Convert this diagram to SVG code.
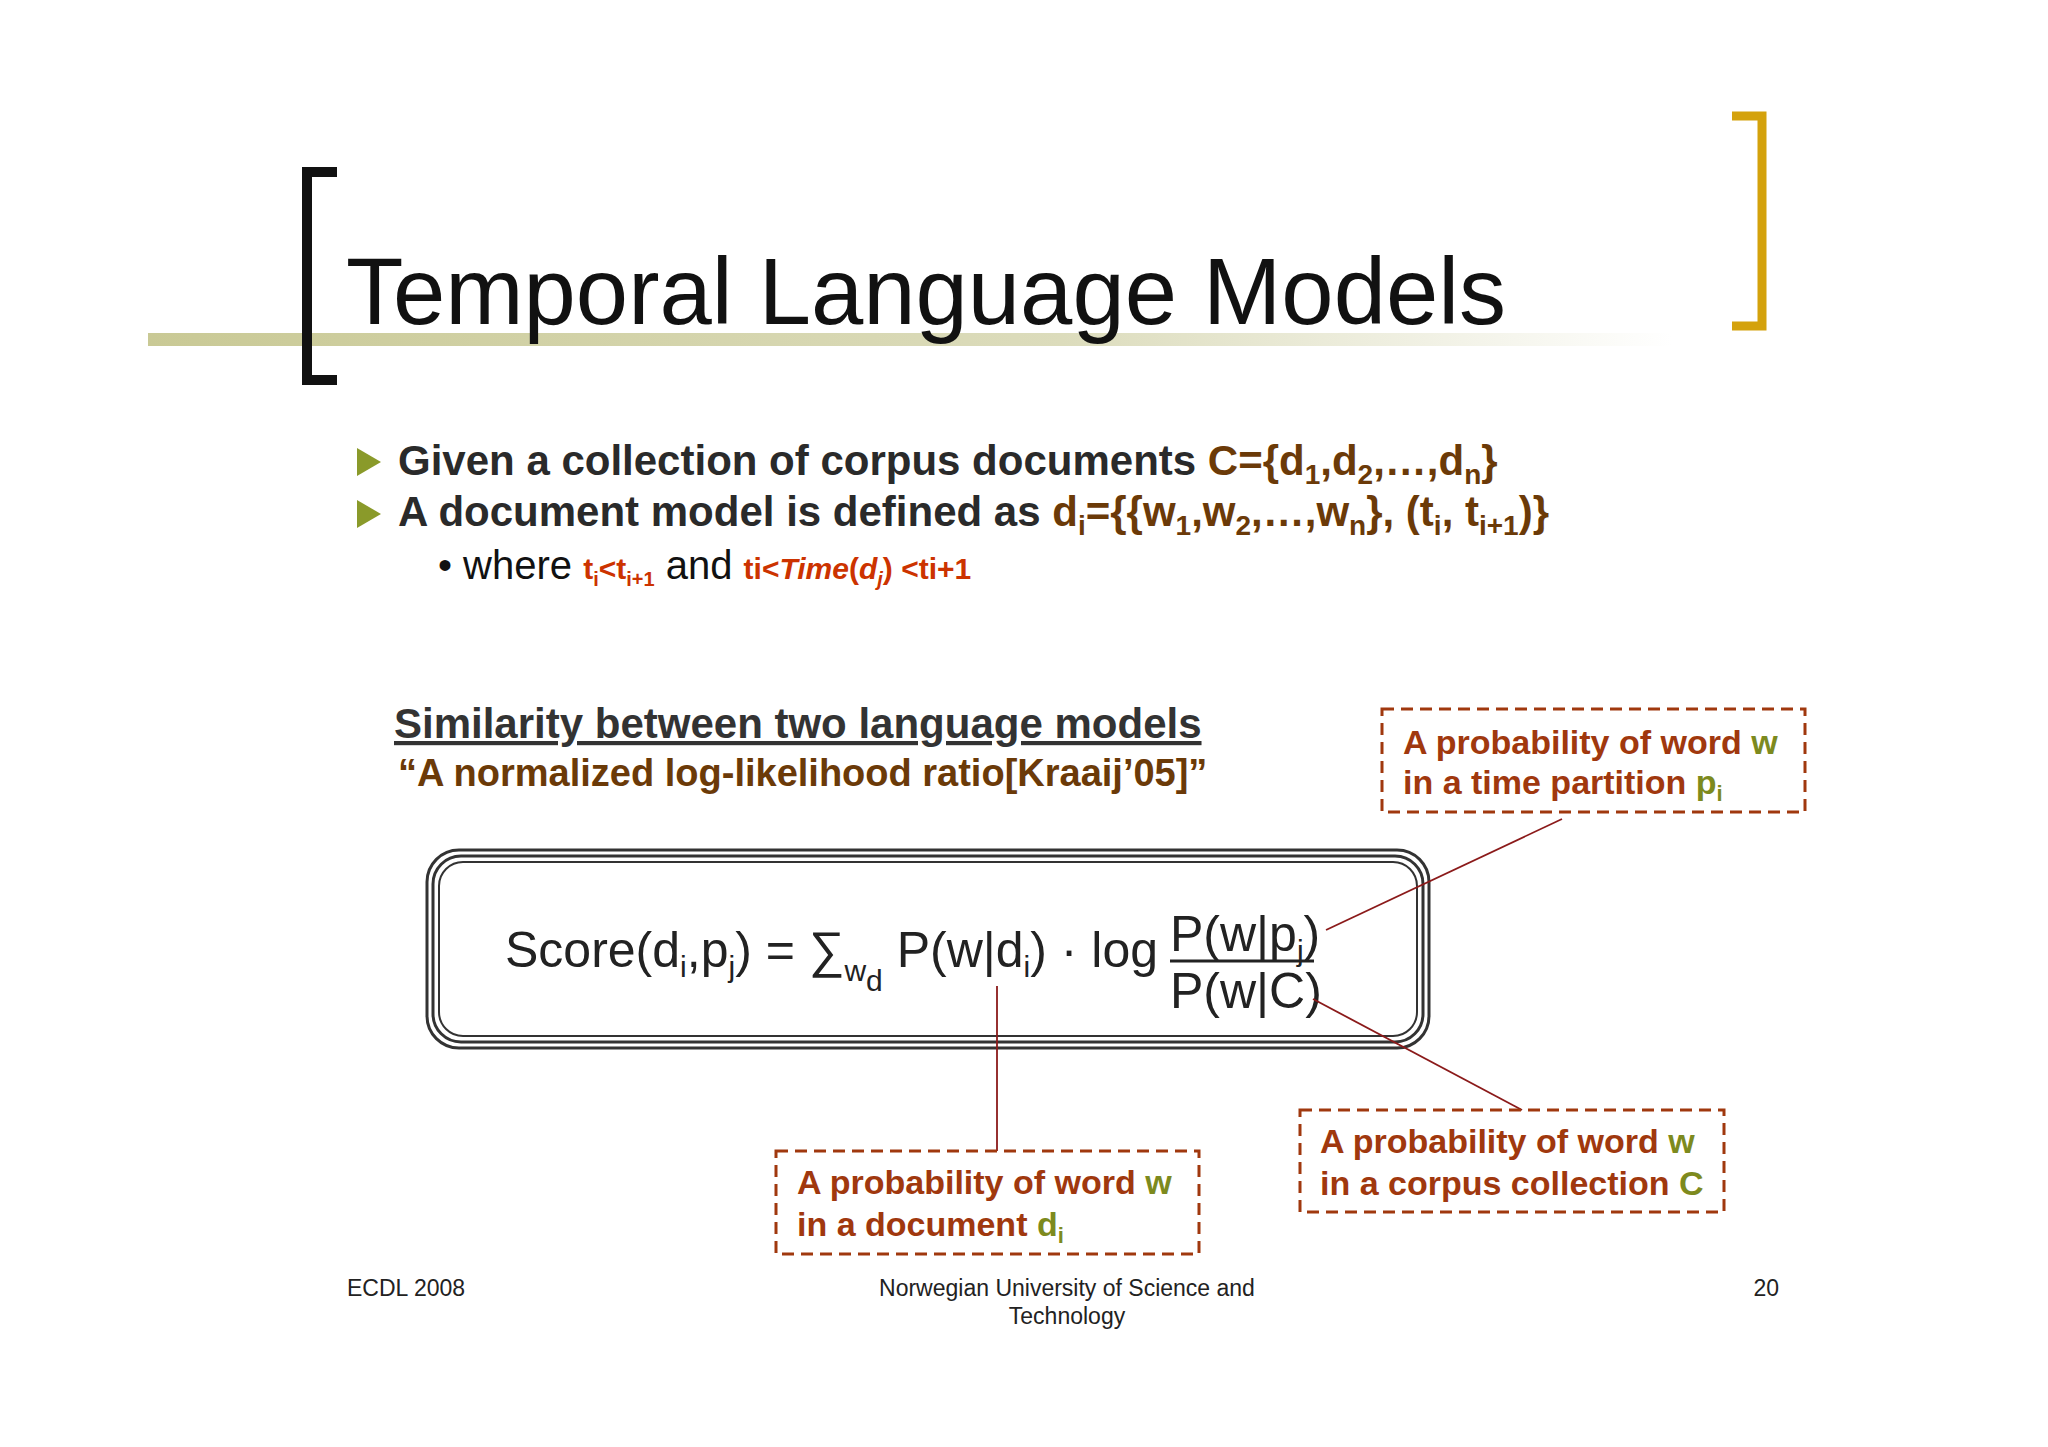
<svg xmlns="http://www.w3.org/2000/svg" width="2048" height="1447" viewBox="0 0 2048 1447">
<defs>
<linearGradient id="bar" x1="0" x2="1" y1="0" y2="0">
<stop offset="0" stop-color="#c9c995"/><stop offset="0.6" stop-color="#dcdcbc"/><stop offset="1" stop-color="#ffffff"/>
</linearGradient>
<style>
text{font-family:"Liberation Sans",Arial,sans-serif}
.b{font-weight:bold}
.dk{fill:#2a2a2a}
.br{fill:#6b3a08}
.rd{fill:#cc3300}
.bx{fill:#a0380e}
.ol{fill:#7d8a1e}
.dash{fill:none;stroke:#a0380e;stroke-width:3;stroke-dasharray:12,7}
.con{stroke:#8b1a1a;stroke-width:1.8;fill:none}
.ft{font-size:23px;fill:#222}
</style>
</defs>
<rect width="2048" height="1447" fill="#fff"/>
<g id="header">
<rect x="148" y="333" width="1524" height="13" fill="url(#bar)"/>
<path d="M337,172 H307 V380 H337" fill="none" stroke="#111" stroke-width="10"/>
<path d="M1732,116 H1762 V326 H1732" fill="none" stroke="#d4a20c" stroke-width="9"/>
<text x="346" y="324" font-size="94" fill="#111">Temporal Language Models</text>
</g>
<g id="bullets">
<path d="M357,448 L381,462 L357,476 Z" fill="#8a9a2a"/>
<text x="398" y="475" font-size="42" class="b dk">Given a collection of corpus documents <tspan class="br">C={d<tspan font-size="28" dy="9">1</tspan><tspan dy="-9">,d</tspan><tspan font-size="28" dy="9">2</tspan><tspan dy="-9">,…,d</tspan><tspan font-size="28" dy="9">n</tspan><tspan dy="-9">}</tspan></tspan></text>
<path d="M357,500 L381,514 L357,528 Z" fill="#8a9a2a"/>
<text x="398" y="526" font-size="42" class="b dk">A document model is defined as <tspan class="br">d<tspan font-size="28" dy="9">i</tspan><tspan dy="-9">={{w</tspan><tspan font-size="28" dy="9">1</tspan><tspan dy="-9">,w</tspan><tspan font-size="28" dy="9">2</tspan><tspan dy="-9">,…,w</tspan><tspan font-size="28" dy="9">n</tspan><tspan dy="-9">}, (t</tspan><tspan font-size="28" dy="9">i</tspan><tspan dy="-9">, t</tspan><tspan font-size="28" dy="9">i+1</tspan><tspan dy="-9">)}</tspan></tspan></text>
<text x="438" y="579" font-size="40" fill="#111">• where <tspan class="b rd" font-size="30">t<tspan font-size="20" dy="7">i</tspan><tspan dy="-7">&lt;t</tspan><tspan font-size="20" dy="7">i+1</tspan></tspan><tspan dy="-7"> and  </tspan><tspan class="b rd" font-size="30">ti&lt;<tspan font-style="italic">Time</tspan>(<tspan font-style="italic">d<tspan font-size="20" dy="7">j</tspan></tspan><tspan dy="-7">) &lt;ti+1</tspan></tspan></text>
</g>
<g id="similarity">
<text x="394" y="738" font-size="42" class="b" fill="#333" text-decoration="underline">Similarity between two language models</text>
<text x="398" y="786" font-size="38" class="b br">“A normalized log-likelihood ratio[Kraaij’05]”</text>
</g>
<g id="formula">
<rect x="427" y="850" width="1002" height="198" rx="32" fill="none" stroke="#333" stroke-width="3"/>
<rect x="433" y="856" width="990" height="186" rx="28" fill="none" stroke="#333" stroke-width="3"/>
<rect x="439" y="862" width="978" height="174" rx="24" fill="none" stroke="#333" stroke-width="2"/>
<text x="505" y="967" font-size="50" fill="#222">Score(d<tspan font-size="30" dy="10">i</tspan><tspan dy="-10">,p</tspan><tspan font-size="30" dy="10">j</tspan><tspan dy="-10">) = ∑</tspan><tspan font-size="30" dy="14">w</tspan><tspan font-size="30" dy="10">d</tspan><tspan dy="-24"> P(w|d</tspan><tspan font-size="30" dy="10">i</tspan><tspan dy="-10">) · log</tspan></text>
<text x="1170" y="951" font-size="50" fill="#222">P(w|p<tspan font-size="30" dy="10">j</tspan><tspan dy="-10">)</tspan></text>
<line x1="1170" y1="961" x2="1314" y2="961" stroke="#222" stroke-width="3"/>
<text x="1170" y="1008" font-size="50" fill="#222">P(w|C)</text>
</g>
<g id="connectors">
<line class="con" x1="1562" y1="819" x2="1326" y2="930"/>
<line class="con" x1="997" y1="986" x2="997" y2="1151"/>
<line class="con" x1="1313" y1="999" x2="1522" y2="1110"/>
</g>
<g id="note-partition">
<rect class="dash" x="1382" y="709" width="423" height="103"/>
<text x="1403" y="754" font-size="34" class="b bx">A probability of word <tspan class="ol">w</tspan></text>
<text x="1403" y="794" font-size="34" class="b bx">in a time partition <tspan class="ol">p<tspan font-size="22" dy="7">i</tspan></tspan></text>
</g>
<g id="note-document">
<rect class="dash" x="776" y="1151" width="423" height="103"/>
<text x="797" y="1194" font-size="34" class="b bx">A probability of word <tspan class="ol">w</tspan></text>
<text x="797" y="1236" font-size="34" class="b bx">in a document <tspan class="ol">d<tspan font-size="22" dy="7">i</tspan></tspan></text>
</g>
<g id="note-corpus">
<rect class="dash" x="1300" y="1110" width="424" height="102"/>
<text x="1320" y="1153" font-size="34" class="b bx">A probability of word <tspan class="ol">w</tspan></text>
<text x="1320" y="1195" font-size="34" class="b bx">in a corpus collection <tspan class="ol">C</tspan></text>
</g>
<g id="footer">
<text x="347" y="1296" class="ft">ECDL 2008</text>
<text x="1067" y="1296" class="ft" text-anchor="middle">Norwegian University of Science and</text>
<text x="1067" y="1324" class="ft" text-anchor="middle">Technology</text>
<text x="1779" y="1296" class="ft" text-anchor="end">20</text>
</g>
</svg>
